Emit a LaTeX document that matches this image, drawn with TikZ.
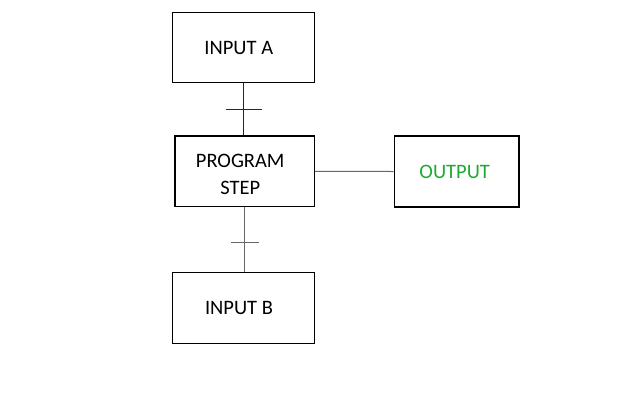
\documentclass[tikz,border=0pt]{standalone}
\usepackage{fontspec}
\setmainfont{Carlito}
\definecolor{outgreen}{RGB}{30,170,50}
\tikzset{
    every node/.style={rectangle, draw, line width=1.3pt, inner sep=0mm, font=\fontsize{20.5}{27}\selectfont}
}
\tikzset{wire/.style={line width=1pt, black!60}}
\tikzset{wirek/.style={line width=1.2pt, black!85}}

\begin{document}
\begin{tikzpicture}[x=1pt, y=-1pt]
    \useasboundingbox (0,0) rectangle (640,402);

    \node (ina) [minimum width=142pt, minimum height=70.4pt] at (243.3,47.5) {INPUT A\kern9pt};
    \node (prog) [minimum width=139.3pt, minimum height=70.7pt, align=center] at (244.7,171.4) {\rule{0pt}{18.5pt}PROGRAM\kern9pt\\STEP\kern9pt};
    \node (out) [minimum width=124.7pt, minimum height=71pt, text=outgreen] at (456.7,171.5) {OUTPUT\kern4pt};
    \node (inb) [minimum width=142.4pt, minimum height=71pt] at (243.5,307.8) {INPUT B\kern9pt};

    \coordinate (tka) at (243.8,109.3);
    \coordinate (tkb) at (245.3,242.3);

    \draw[wirek] (ina.south) -- (ina.south |- prog.north);
    \draw[wirek] (tka) ++(-18,0) -- ++(36,0);

    \draw[wire] (prog.south) -- (prog.south |- inb.north);
    \draw[wire] (tkb) ++(-14,0) -- ++(28,0);

    \draw[wire] (prog.east) -- (out.west);
\end{tikzpicture}
\end{document}
